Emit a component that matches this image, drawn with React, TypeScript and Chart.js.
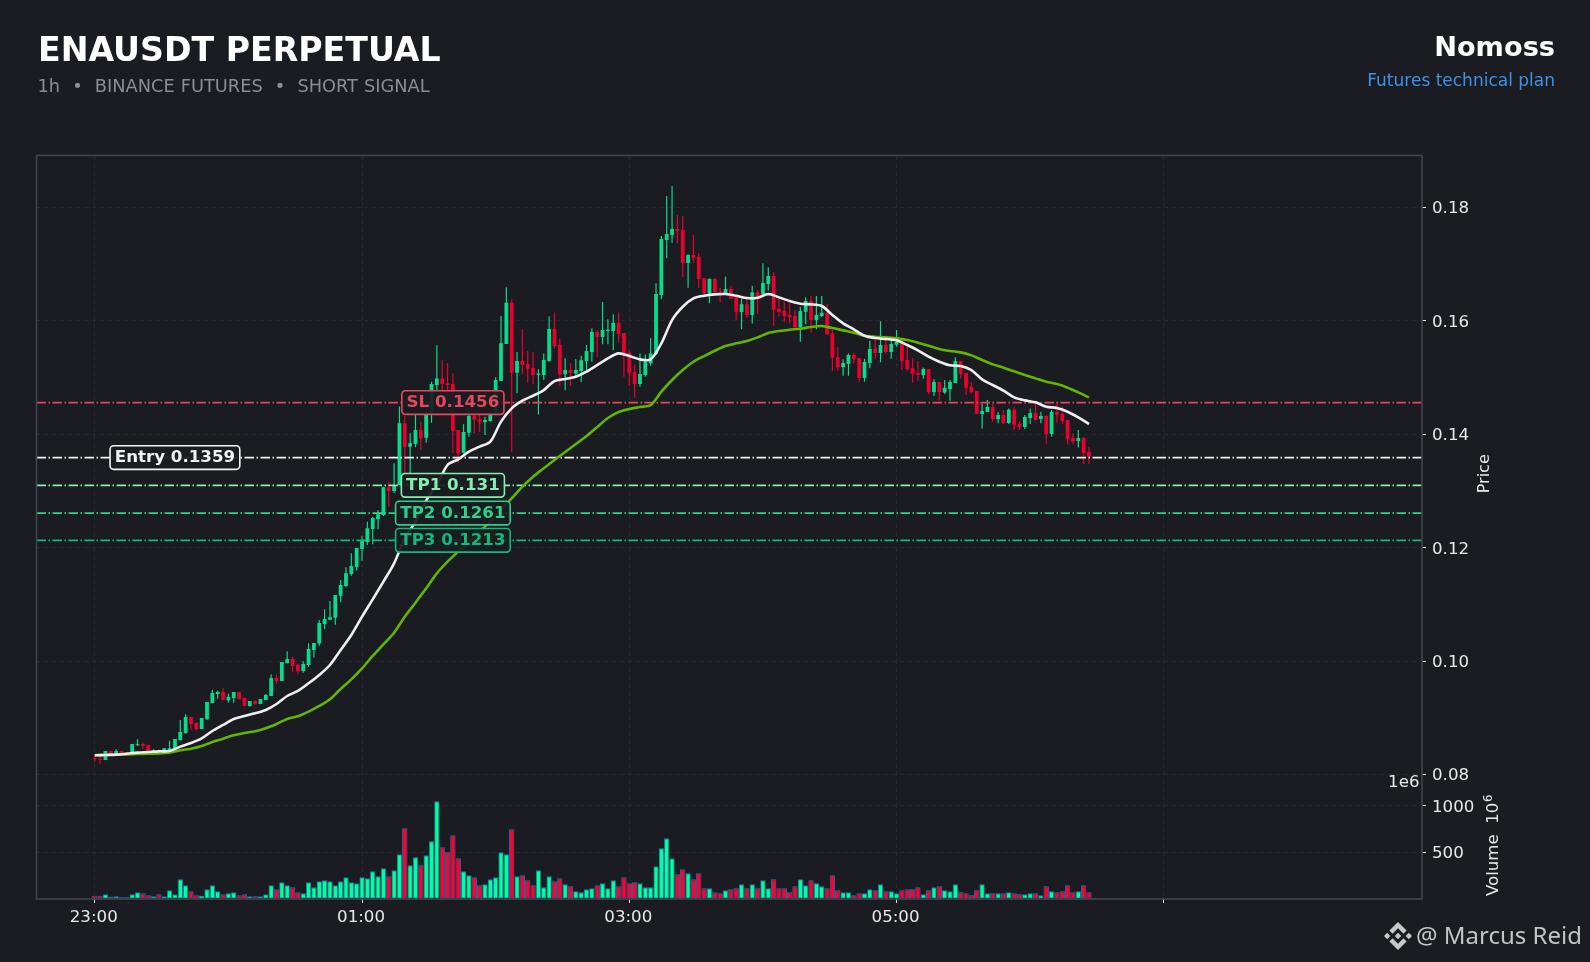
import React, { useEffect, useRef } from "react";
import { Chart, registerables } from "chart.js";

Chart.register(...registerables);

const opens = [
  .08273,.08267,.08255,.08414,.08355,.08414,.08396,.08373,.08514,.08544,
  .08520,.08396,.08432,.08402,.08420,.08444,.08602,.08732,.09014,.08908,
  .08802,.08979,.09261,.09420,.09461,.09308,.09349,.09455,.09349,.09208,
  .09296,.09243,.09314,.09384,.09702,.09649,.09961,.10037,.09937,.09825,
  .09931,.10196,.10308,.10654,.10730,.10766,.11154,.11324,.11536,.11659,
  .11977,.12100,.12330,.12506,.12577,.13065,.13000,.13106,.14194,.13782,
  .13829,.14076,.13940,.14369,.14863,.14986,.14898,.14886,.14075,.13675,
  .14028,.14322,.14269,.14216,.14234,.14369,.14939,.15592,.16321,.15086,
  .15292,.15239,.15169,.15051,.15045,.15292,.15856,.15574,.15057,.15133,
  .15074,.15116,.15292,.15451,.15803,.15715,.15821,.15821,.15962,.15786,
  .15439,.15104,.14886,.15045,.15251,.15415,.16456,.17426,.17515,.17620,
  .17603,.17021,.17162,.17127,.16750,.16486,.16738,.16515,.16480,.16562,
  .16427,.16156,.16292,.16103,.16503,.16468,.16650,.16791,.16209,.16180,
  .16103,.16086,.15886,.16162,.16351,.16015,.16086,.16145,.15780,.15357,
  .15186,.15239,.15398,.15345,.14992,.15257,.15504,.15433,.15574,.15451,
  .15580,.15633,.15310,.15163,.15080,.15045,.15151,.14745,.14922,.14739,
  .14798,.14904,.15292,.15080,.14839,.14763,.14357,.14393,.14481,.14269,
  .14340,.14199,.14434,.14187,.14128,.14287,.14375,.14269,.14322,.14004,
  .14393,.14357,.14251,.13934,.13881,.13934,.13687,
];
const highs = [
  .08326,.08326,.08414,.08414,.08443,.08414,.08396,.08538,.08620,.08561,
  .08520,.08443,.08443,.08461,.08596,.08626,.08961,.09061,.09014,.08920,
  .08996,.09279,.09496,.09478,.09520,.09426,.09455,.09455,.09349,.09296,
  .09308,.09331,.09420,.09767,.09767,.09984,.10172,.10072,.09961,.09996,
  .10313,.10319,.10725,.10913,.11060,.11165,.11430,.11653,.11900,.11994,
  .12212,.12459,.12547,.12665,.13076,.13165,.13488,.14488,.14323,.14017,
  .14370,.14222,.14428,.14928,.15569,.15310,.15251,.15075,.14075,.14175,
  .14457,.14457,.14369,.14310,.14369,.15004,.16086,.16592,.16380,.15451,
  .15851,.15469,.15445,.15145,.15427,.16080,.16150,.15680,.15339,.15251,
  .15327,.15386,.15574,.15868,.15839,.16333,.16027,.16115,.16150,.15786,
  .15486,.15233,.15427,.15409,.15692,.16662,.17497,.18203,.18379,.17867,
  .17844,.17174,.17515,.17191,.16750,.16750,.16762,.16586,.16785,.16621,
  .16427,.16397,.16397,.16621,.16544,.17015,.16944,.16856,.16397,.16339,
  .16309,.16192,.16250,.16415,.16439,.16439,.16439,.16298,.15839,.15533,
  .15322,.15427,.15439,.15345,.15333,.15651,.15663,.15992,.15739,.15674,
  .15839,.15663,.15604,.15339,.15292,.15180,.15151,.14969,.14922,.14957,
  .14957,.15357,.15292,.15080,.14916,.14763,.14534,.14604,.14545,.14393,
  .14428,.14457,.14487,.14234,.14340,.14457,.14545,.14398,.14340,.14428,
  .14557,.14498,.14251,.14016,.14075,.13957,.13781,
];
const lows = [
  .08226,.08191,.08255,.08361,.08344,.08367,.08361,.08373,.08502,.08449,
  .08420,.08391,.08391,.08402,.08420,.08444,.08602,.08720,.08790,.08773,
  .08802,.08961,.09255,.09337,.09314,.09267,.09267,.09326,.09208,.09196,
  .09232,.09237,.09314,.09384,.09602,.09649,.09961,.09814,.09778,.09796,
  .09902,.10061,.10272,.10566,.10724,.10642,.11036,.11301,.11506,.11595,
  .11771,.12047,.12059,.12324,.12559,.12724,.12959,.13106,.13312,.13312,
  .13770,.13722,.13852,.14204,.14781,.14722,.14692,.13675,.13499,.13663,
  .13957,.14016,.14046,.13987,.14222,.14351,.14939,.15592,.13693,.14722,
  .15057,.14910,.14886,.14351,.14957,.15280,.15515,.14857,.14775,.14857,
  .15016,.14916,.15104,.15280,.15368,.15586,.15586,.15486,.15615,.15016,
  .14857,.14645,.14839,.15016,.15210,.15398,.16380,.17103,.17379,.17368,
  .16780,.16586,.17021,.16574,.16444,.16309,.16468,.16321,.16480,.16386,
  .16015,.15851,.16056,.15956,.16127,.16456,.16533,.15915,.16074,.15974,
  .15956,.15839,.15633,.15939,.15792,.15851,.16062,.15751,.15122,.15122,
  .15033,.15033,.15251,.14928,.14928,.15163,.15333,.15269,.15416,.15333,
  .15545,.15133,.15122,.14910,.14939,.14981,.14710,.14675,.14592,.14710,
  .14592,.14904,.14986,.14692,.14722,.14363,.14104,.14393,.14222,.14193,
  .14181,.14181,.14075,.14075,.14087,.14181,.14240,.14193,.13828,.13957,
  .14204,.14181,.13822,.13828,.13769,.13475,.13475,
];
const closes = [
  .08267,.08261,.08414,.08361,.08414,.08367,.08361,.08538,.08526,.08502,
  .08420,.08432,.08402,.08461,.08461,.08626,.08749,.09014,.08890,.08796,
  .08996,.09279,.09437,.09455,.09314,.09367,.09455,.09326,.09208,.09296,
  .09249,.09331,.09402,.09702,.09643,.09984,.10037,.09914,.09820,.09949,
  .10213,.10319,.10672,.10742,.10771,.11165,.11342,.11548,.11677,.11994,
  .12124,.12341,.12524,.12588,.13065,.13000,.13106,.14194,.13782,.13841,
  .14076,.13929,.14351,.14886,.14986,.14886,.14869,.14063,.13663,.14040,
  .14322,.14257,.14216,.14251,.14369,.14957,.15604,.16321,.15086,.15292,
  .15222,.15157,.15045,.15063,.15310,.15856,.15551,.15057,.15133,.15080,
  .15133,.15304,.15468,.15803,.15715,.15839,.15833,.15962,.15768,.15427,
  .15080,.14886,.15063,.15280,.15427,.16474,.17444,.17532,.17620,.17585,
  .17021,.17162,.17109,.16738,.16486,.16738,.16503,.16480,.16562,.16397,
  .16162,.16292,.16103,.16503,.16421,.16668,.16791,.16192,.16156,.16086,
  .16062,.15886,.16174,.16351,.16015,.16104,.16145,.15763,.15351,.15180,
  .15257,.15398,.15327,.14992,.15275,.15504,.15433,.15574,.15451,.15592,
  .15633,.15292,.15145,.15063,.15045,.15151,.14745,.14922,.14745,.14822,
  .14922,.15292,.15063,.14822,.14745,.14363,.14410,.14481,.14269,.14340,
  .14199,.14434,.14169,.14128,.14304,.14375,.14251,.14322,.14004,.14393,
  .14340,.14234,.13916,.13875,.13934,.13669,.13605,
];
const volumes = [
  32,32,47,22,25,14,14,47,68,58,36,25,47,25,90,47,209,144,79,36,
  32,101,144,79,47,58,68,36,47,25,25,25,47,144,101,176,144,122,68,58,
  176,122,187,198,187,144,187,230,176,166,230,220,295,241,328,241,306,479,760,360,
  446,360,468,619,1051,554,500,684,436,295,252,230,144,155,209,230,500,479,749,241,
  252,198,144,306,122,241,187,220,155,133,79,68,101,112,144,166,112,198,133,230,
  166,176,166,122,122,349,544,652,436,263,317,274,209,274,112,112,68,58,90,101,
  112,155,112,155,112,198,112,209,112,112,68,133,209,144,198,166,133,112,252,90,
  68,68,36,58,58,101,90,155,79,79,58,90,101,101,122,47,90,122,133,90,
  79,155,68,58,36,90,155,58,58,58,58,68,58,47,47,58,58,36,133,79,
  68,79,144,68,79,144,68,
];
// readings of the two moving-average lines, one value every second candle
const maStep = 2;
const maWhite = [
  .08338,.08344,.08350,.08367,.08385,.08396,.08408,.08414,.08491,.08555,
  .08638,.08767,.08873,.08979,.09032,.09079,.09137,.09243,.09384,.09473,
  .09608,.09755,.09931,.10196,.10460,.10783,.11089,.11401,.11724,.12165,
  .12459,.12829,.13106,.13459,.13559,.13694,.13782,.13870,.14223,.14458,
  .14593,.14680,.14780,.14939,.14975,.15016,.15104,.15221,.15339,.15427,
  .15380,.15321,.15321,.15604,.16015,.16250,.16397,.16444,.16468,.16474,
  .16444,.16403,.16409,.16474,.16415,.16350,.16303,.16292,.16262,.16104,
  .15957,.15851,.15739,.15698,.15680,.15657,.15574,.15480,.15369,.15280,
  .15216,.15204,.15133,.14969,.14869,.14769,.14651,.14598,.14563,.14487,
  .14463,.14398,.14298,.14181,
];
const maGreen = [
  .08338,.08344,.08350,.08355,.08361,.08367,.08373,.08385,.08426,.08455,
  .08502,.08573,.08632,.08691,.08732,.08761,.08814,.08890,.08979,.09026,
  .09108,.09208,.09326,.09508,.09678,.09872,.10090,.10295,.10501,.10783,
  .11030,.11283,.11548,.11753,.11930,.12089,.12283,.12459,.12665,.12871,
  .13076,.13253,.13400,.13547,.13688,.13829,.13970,.14129,.14287,.14393,
  .14446,.14481,.14516,.14751,.14957,.15133,.15280,.15380,.15474,.15557,
  .15604,.15645,.15709,.15786,.15821,.15845,.15862,.15892,.15910,.15874,
  .15833,.15792,.15739,.15721,.15710,.15692,.15663,.15616,.15563,.15504,
  .15469,.15445,.15392,.15310,.15233,.15175,.15110,.15045,.14986,.14928,
  .14886,.14822,.14739,.14651,
];

const levelNames = ["SL", "Entry", "TP1", "TP2", "TP3"];
const levelValues = [0.1456, 0.1359, 0.131, 0.1261, 0.1213];
const levelColors = ["#e5485d", "#f2f2f2", "#86efb0", "#2fd08a", "#12b97c"];
const levelLabelAt = [67, 15, 67, 67, 67];

const xTickValues = [0, 50, 100, 150, 200];
const xTickLabels = ["23:00", "01:00", "03:00", "05:00", ""];
const priceTicks = [0.08, 0.1, 0.12, 0.14, 0.16, 0.18];
const volumeTicks = [500, 1000];

const BG = "#1a1c21";
const FONT = '"DejaVu Sans"';
const GRID = "#272a30";
const FRAME = "#40454d";
const TICK = "#e8e8e8";

const overlay = {
  id: "overlay",
  afterDatasetsDraw(chart: any) {
    const { ctx, chartArea: a, scales } = chart;
    ctx.save();
    ctx.strokeStyle = FRAME;
    ctx.lineWidth = 1.6;
    ctx.strokeRect(a.left, a.top, a.right - a.left, a.bottom - a.top);

    // level tags
    ctx.font = `bold 16.67px ${FONT}`;
    ctx.textBaseline = "middle";
    ctx.textAlign = "center";
    levelNames.forEach((name, i) => {
      const text = `${name} ${levelValues[i]}`;
      const cx = scales.x.getPixelForValue(levelLabelAt[i]);
      const cy = scales.y.getPixelForValue(levelValues[i]);
      const w = ctx.measureText(text).width + 9.4;
      const h = 23.6;
      ctx.beginPath();
      ctx.roundRect(cx - w / 2, cy - h / 2, w, h, 3.5);
      ctx.fillStyle = "rgba(26,28,33,0.93)";
      ctx.fill();
      ctx.strokeStyle = levelColors[i];
      ctx.lineWidth = 1.6;
      ctx.stroke();
      ctx.fillStyle = levelColors[i];
      ctx.fillText(text, cx, cy + 0.5);
    });

    // axis titles, read bottom to top
    ctx.fillStyle = TICK;
    ctx.textBaseline = "alphabetic";
    ctx.save();
    ctx.translate(1489, (scales.y.top + scales.y.bottom) / 2);
    ctx.rotate(-Math.PI / 2);
    ctx.textAlign = "center";
    ctx.font = `16px ${FONT}`;
    ctx.fillText("Price", 0, 0);
    ctx.restore();

    ctx.save();
    ctx.translate(1498, 896);
    ctx.rotate(-Math.PI / 2);
    ctx.textAlign = "left";
    ctx.font = `16.6px ${FONT}`;
    ctx.fillText("Volume  10", 0, 0);
    const w = ctx.measureText("Volume  10").width;
    ctx.font = `11.8px ${FONT}`;
    ctx.fillText("6", w + 0.5, -6.5);
    ctx.restore();

    ctx.textAlign = "right";
    ctx.font = `16.67px ${FONT}`;
    ctx.fillText("1e6", 1419.5, 787);
    ctx.restore();
  },
};

export default function App() {
  const ref = useRef<HTMLCanvasElement | null>(null);

  useEffect(() => {
    document.body.style.margin = "0";
    document.body.style.background = BG;
    if (!ref.current) return;
    Chart.defaults.font.family = FONT;
    const isUp = opens.map((o, i) => closes[i] >= o);
    const bodyColor = isUp.map((u) => (u ? "rgb(8,219,140)" : "rgb(232,0,46)"));
    const volColor = isUp.map((u) => (u ? "#00ff9d" : "#ff0033"));
    const xMin = -10.9;
    const xMax = 248.3;

    const chart = new Chart(ref.current, {
      type: "bar",
      plugins: [overlay],
      data: {
        datasets: [
          ...levelValues.map((v, i) => ({
            type: "line",
            order: 3,
            xAxisID: "x",
            yAxisID: "y",
            data: [{ x: xMin, y: v }, { x: xMax, y: v }],
            borderColor: levelColors[i],
            borderWidth: 1.8,
            borderDash: [9.5, 2.5, 1.5, 2.5],
            pointRadius: 0,
          })),
          {
            type: "line",
            order: 2,
            xAxisID: "x",
            yAxisID: "y",
            data: maGreen.map((y, i) => ({ x: i * maStep, y })),
            borderColor: "#62b500",
            borderWidth: 2.6,
            pointRadius: 0,
            tension: 0.3,
          },
          {
            type: "line",
            order: 1,
            xAxisID: "x",
            yAxisID: "y",
            data: maWhite.map((y, i) => ({ x: i * maStep, y })),
            borderColor: "#efefef",
            borderWidth: 2.6,
            pointRadius: 0,
            tension: 0.3,
          },
          {
            type: "bar",
            order: 4,
            xAxisID: "x",
            yAxisID: "y",
            data: opens.map((o, i) => ({ x: i, y: [o, closes[i]] })),
            backgroundColor: bodyColor,
            borderWidth: 0,
            barThickness: 3.8,
            minBarLength: 1.2,
            grouped: false,
            inflateAmount: 0,
          },
          {
            type: "bar",
            order: 5,
            xAxisID: "x",
            yAxisID: "y",
            data: lows.map((l, i) => ({ x: i, y: [l, highs[i]] })),
            backgroundColor: bodyColor,
            borderWidth: 0,
            barThickness: 1.2,
            grouped: false,
            inflateAmount: 0,
          },
          {
            type: "bar",
            order: 6,
            xAxisID: "x",
            yAxisID: "vol",
            data: volumes.map((v, i) => ({ x: i, y: v })),
            backgroundColor: volColor,
            borderColor: "#1f77b4",
            borderWidth: 0.9,
            borderSkipped: false,
            barThickness: 5.3,
            grouped: false,
            inflateAmount: 0,
          },
        ] as any,
      },
      options: {
        responsive: false,
        animation: false,
        layout: { padding: { left: 36.5, top: 155.5, right: 0, bottom: 0 } },
        plugins: { legend: { display: false }, tooltip: { enabled: false } },
        scales: {
          x: {
            type: "linear",
            position: "bottom",
            offset: false,
            min: xMin,
            max: xMax,
            afterBuildTicks: (s: any) => {
              s.ticks = xTickValues.map((value) => ({ value }));
            },
            afterFit: (s: any) => {
              s.height = 63;
            },
            ticks: {
              color: TICK,
              font: { size: 16.67 },
              maxRotation: 0,
              autoSkip: false,
              padding: 5,
              labelOffset: -1,
              callback: (v: any) => xTickLabels[xTickValues.indexOf(Number(v))] ?? "",
            },
            grid: { offset: false, color: GRID, lineWidth: 1, tickLength: 4, tickColor: TICK, tickWidth: 1 },
            border: { display: false, dash: [4, 4] },
          },
          y: {
            type: "linear",
            position: "right",
            stack: "panels",
            stackWeight: 636.5,
            weight: 0,
            min: 0.07691,
            max: 0.18917,
            afterBuildTicks: (s: any) => {
              s.ticks = priceTicks.map((value) => ({ value }));
            },
            afterFit: (s: any) => {
              s.width = 168;
            },
            ticks: {
              color: TICK,
              font: { size: 16.67 },
              padding: 6,
              labelOffset: 1.5,
              autoSkip: false,
              callback: (v: any) => Number(v).toFixed(2),
            },
            grid: { color: GRID, lineWidth: 1, tickLength: 4, tickColor: TICK, tickWidth: 1 },
            border: { display: false, dash: [4, 4] },
          },
          vol: {
            type: "linear",
            position: "right",
            stack: "panels",
            stackWeight: 107,
            weight: 1,
            min: -4,
            max: 1151,
            afterBuildTicks: (s: any) => {
              s.ticks = volumeTicks.map((value) => ({ value }));
            },
            afterFit: (s: any) => {
              s.width = 168;
            },
            ticks: {
              color: TICK,
              font: { size: 16.67 },
              padding: 6,
              labelOffset: 1.5,
              autoSkip: false,
              callback: (v: any) => String(v),
            },
            grid: { color: GRID, lineWidth: 1, tickLength: 4, tickColor: TICK, tickWidth: 1 },
            border: { display: false, dash: [4, 4] },
          },
        },
      } as any,
    });
    return () => chart.destroy();
  }, []);

  const text = (s: any) => ({
    position: "absolute" as const,
    lineHeight: 1,
    whiteSpace: "pre" as const,
    fontFamily: FONT,
    ...s,
  });

  return (
    <div style={{ position: "absolute", left: 0, top: 0, width: 1590, height: 962, overflow: "hidden", background: BG }}>
      <canvas ref={ref} width={1590} height={962} style={{ display: "block", position: "absolute", left: 0, top: 0 }} />
      <div style={text({ left: 38, top: 32.5, fontSize: 33.2, fontWeight: 700, color: "#ffffff" })}>ENAUSDT PERPETUAL</div>
      <div style={text({ left: 37.5, top: 76.5, fontSize: 17.8, wordSpacing: 0.4, color: "#8b8e94" })}>{"1h  •  BINANCE FUTURES  •  SHORT SIGNAL"}</div>
      <div style={text({ right: 35, top: 32.7, fontSize: 27.2, fontWeight: 700, color: "#ffffff" })}>Nomoss</div>
      <div style={text({ right: 35, top: 71.9, fontSize: 17, color: "#3f92e6" })}>Futures technical plan</div>
      <svg viewBox="0 0 126.61 126.61" width={28} height={28} style={{ position: "absolute", left: 1384, top: 922 }}>
        <path
          fill="#c8c8c8"
          d="M38.73 53.2l24.59-24.58 24.6 24.6 14.3-14.31L63.32 0 24.42 38.9zM0 63.31l14.3-14.31 14.31 14.31-14.31 14.3zM38.73 73.41l24.59 24.59 24.6-24.6 14.31 14.29-38.9 38.91-38.91-38.88-.02-.02zM98 63.31l14.3-14.31 14.31 14.3-14.31 14.32zM77.83 63.3L63.32 48.78 52.59 59.51l-1.24 1.23-2.54 2.54 14.51 14.5 14.51-14.47z"
        />
      </svg>
      <div style={text({ right: 8, top: 922.7, fontSize: 24, fontFamily: '"Noto Sans"', color: "#c4c4c4" })}>@ Marcus Reid</div>
    </div>
  );
}
